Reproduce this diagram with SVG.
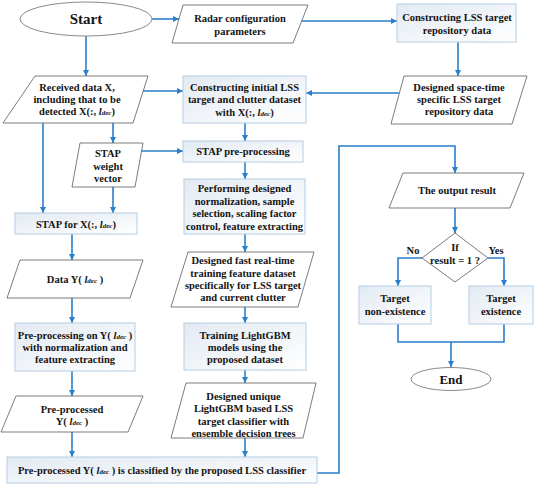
<svg xmlns="http://www.w3.org/2000/svg" width="550" height="487" viewBox="0 0 550 487">
<style>
text{font-family:"Liberation Serif","Times New Roman",serif;font-weight:bold;font-size:10.5px;fill:#141414;text-anchor:middle}
.box{fill:url(#g);stroke:#b3cde3;stroke-width:1}
.para{fill:#fff;stroke:#5a5a5a;stroke-width:0.8}
.term{fill:#fff;stroke:#8a8a8a;stroke-width:1}
.c path{fill:none;stroke:#2a7fcb;stroke-width:1.6}
.c .a{marker-end:url(#ar)}
.i{font-style:italic}
.s{font-style:italic;font-size:7px}
</style>
<defs>
<linearGradient id="g" x1="0" y1="0" x2="1" y2="1">
<stop offset="0" stop-color="#e2eaf2"/>
<stop offset="1" stop-color="#ffffff"/>
</linearGradient>
<marker id="ar" viewBox="0 0 10 10" refX="10" refY="5" markerWidth="6" markerHeight="6" markerUnits="userSpaceOnUse" orient="auto">
<path d="M0,0 L10,5 L0,10 z" fill="#2a7fcb"/>
</marker>
</defs>
<rect width="550" height="487" fill="#fff"/>
<g class="c" id="connectors">
<path class="a" d="M152 19 H179"/>
<path class="a" d="M302 21 H397"/>
<path class="a" d="M458 42 V76"/>
<path class="a" d="M399 93 H306"/>
<path class="a" d="M86 36 V76"/>
<path class="a" d="M143 91 H183"/>
<path class="a" d="M43 123 V213"/>
<path class="a" d="M113 123 V143"/>
<path class="a" d="M141 151 H183"/>
<path class="a" d="M113 187 V213"/>
<path class="a" d="M245 123 V141"/>
<path class="a" d="M245 162 V179"/>
<path class="a" d="M245 234 V252"/>
<path class="a" d="M245 307 V323"/>
<path class="a" d="M245 370 V383"/>
<path class="a" d="M245 438 V457"/>
<path class="a" d="M72 234 V260"/>
<path class="a" d="M72 298 V323"/>
<path class="a" d="M72 371 V396"/>
<path class="a" d="M72 432 V457"/>
<path class="a" d="M317 473 H339 V146 H455 V173"/>
<path class="a" d="M455 208 V233"/>
<path class="a" d="M422 258 H398 V286"/>
<path class="a" d="M488 258 H504 V286"/>
<path d="M398 324 V342 H504 V324"/>
<path class="a" d="M451 342 V367"/>
</g>
<g id="start"><ellipse class="term" cx="86" cy="19" rx="66" ry="17"/><text x="86" y="24" style="font-size:15px">Start</text></g>
<g id="radar"><polygon class="para" points="183,5 308,5 293,43 172,43"/><text x="240" y="22">Radar configuration</text><text x="240" y="35">parameters</text></g>
<g id="repo"><rect class="box" x="397" y="4" width="119" height="38"/><text x="457" y="21">Constructing LSS target</text><text x="457" y="34">repository data</text></g>
<g id="designed"><polygon class="para" points="404,76 527,76 512,124 391,124"/><text x="459" y="91">Designed space-time</text><text x="459" y="103">specific LSS target</text><text x="459" y="115">repository data</text></g>
<g id="init"><rect class="box" x="183" y="76" width="123" height="47"/><text x="244.5" y="91">Constructing initial LSS</text><text x="244.5" y="103">target and clutter dataset</text><text x="244.5" y="116">with X(:, <tspan class="i">l</tspan><tspan class="s">dec</tspan>)</text></g>
<g id="received"><polygon class="para" points="35,76 148,76 133,123 3,123"/><text x="77" y="91">Received data X,</text><text x="77" y="103">including that to be</text><text x="77" y="115">detected X(:, <tspan class="i">l</tspan><tspan class="s">dec</tspan>)</text></g>
<g id="stapw"><polygon class="para" points="80,143 143,143 135,187 72,187"/><text x="108" y="157">STAP</text><text x="108" y="170">weight</text><text x="108" y="182">vector</text></g>
<g id="stappre"><rect class="box" x="183" y="141" width="120" height="21"/><text x="243" y="155">STAP pre-processing</text></g>
<g id="stapx"><rect class="box" x="15" y="213" width="122" height="21"/><text x="76" y="228">STAP for X(:, <tspan class="i">l</tspan><tspan class="s">dec</tspan>)</text></g>
<g id="datay"><polygon class="para" points="20,260 143,260 130,298 7,298"/><text x="75" y="283">Data Y( <tspan class="i">l</tspan><tspan class="s">dec</tspan> )</text></g>
<g id="preon"><rect class="box" x="15" y="323" width="120" height="48"/><text x="75" y="339">Pre-processing on Y( <tspan class="i">l</tspan><tspan class="s">dec</tspan> )</text><text x="75" y="351">with normalization and</text><text x="75" y="363">feature extracting</text></g>
<g id="preproc"><polygon class="para" points="16,396 143,396 128,432 1,432"/><text x="72" y="413">Pre-processed</text><text x="72" y="425">Y( <tspan class="i">l</tspan><tspan class="s">dec</tspan> )</text></g>
<g id="classify"><rect class="box" x="7" y="457" width="310" height="26"/><text x="162" y="474">Pre-processed Y( <tspan class="i">l</tspan><tspan class="s">dec</tspan> ) is classified by the proposed LSS classifier</text></g>
<g id="perform"><rect class="box" x="184" y="179" width="121" height="55"/><text x="244.5" y="192">Performing designed</text><text x="244.5" y="205">normalization, sample</text><text x="244.5" y="217">selection, scaling factor</text><text x="244.5" y="230">control, feature extracting</text></g>
<g id="fast"><polygon class="para" points="188,252 314,252 298,307 171,307"/><text x="243" y="264">Designed fast real-time</text><text x="243" y="277">training feature dataset</text><text x="243" y="289">specifically for LSS target</text><text x="243" y="301">and current clutter</text></g>
<g id="train"><rect class="box" x="184" y="323" width="122" height="47"/><text x="245" y="339">Training LightGBM</text><text x="245" y="351">models using the</text><text x="245" y="363">proposed dataset</text></g>
<g id="unique"><polygon class="para" points="186,383 316,383 303,438 171,438"/><text x="243.5" y="400">Designed unique</text><text x="243.5" y="412">LightGBM based LSS</text><text x="243.5" y="425">target classifier with</text><text x="243.5" y="437">ensemble decision trees</text></g>
<g id="output"><polygon class="para" points="403,173 524,173 510,208 389,208"/><text x="457" y="194">The output result</text></g>
<g id="decision"><polygon class="para" points="455,233 488,258 455,282 422,258"/><text x="455" y="251">If</text><text x="455" y="264">result = 1 ?</text><text x="413" y="254">No</text><text x="496" y="254">Yes</text></g>
<g id="nonexist"><rect class="box" x="359" y="286" width="72" height="38"/><text x="395" y="302">Target</text><text x="395" y="315">non-existence</text></g>
<g id="exist"><rect class="box" x="469" y="286" width="64" height="38"/><text x="501" y="302">Target</text><text x="501" y="315">existence</text></g>
<g id="end"><ellipse class="term" cx="451" cy="379" rx="40" ry="11.5"/><text x="451" y="384" style="font-size:13px">End</text></g>
</svg>
